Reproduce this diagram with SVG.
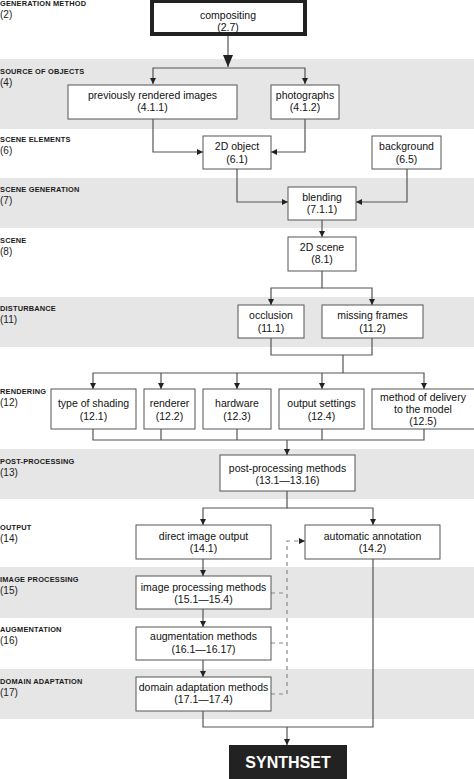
<svg xmlns="http://www.w3.org/2000/svg" width="474" height="779" viewBox="0 0 474 779">
<style>
.band{fill:#e6e6e6}
.lab{font-family:"Liberation Sans",Arial,sans-serif;font-size:7.4px;font-weight:bold;fill:#1a1a1a;letter-spacing:0.2px}
.num{font-family:"Liberation Sans",Arial,sans-serif;font-size:10px;fill:#222}
.box{fill:#fff;stroke:#555;stroke-width:1}
.t{font-family:"Liberation Sans",Arial,sans-serif;font-size:10.5px;fill:#111;text-anchor:middle}
.c{fill:none;stroke:#555;stroke-width:1.2}
.d{fill:none;stroke:#888;stroke-width:1.2;stroke-dasharray:4,4}
</style>
<defs>
<marker id="ah" markerUnits="userSpaceOnUse" markerWidth="6" markerHeight="7" refX="6" refY="3" orient="auto">
<path d="M0,0 L6,3 L0,6 z" fill="#222"/>
</marker>
<marker id="ahb" markerUnits="userSpaceOnUse" markerWidth="12" markerHeight="10" refX="12" refY="5" orient="auto">
<path d="M0,0 L12,5 L0,10 z" fill="#222"/>
</marker>
</defs>
<rect width="474" height="779" fill="#fff"/>
<g id="bands">
<rect class="band" x="0" y="59" width="474" height="70"/>
<rect class="band" x="0" y="178" width="474" height="50"/>
<rect class="band" x="0" y="297" width="474" height="50"/>
<rect class="band" x="0" y="449" width="474" height="50"/>
<rect class="band" x="0" y="567" width="474" height="51"/>
<rect class="band" x="0" y="669" width="474" height="50"/>
</g>
<g id="labels">
<text class="lab" x="0" y="6">GENERATION METHOD</text><text class="num" x="0" y="18">(2)</text>
<text class="lab" x="0" y="74">SOURCE OF OBJECTS</text><text class="num" x="0" y="86">(4)</text>
<text class="lab" x="0" y="142">SCENE ELEMENTS</text><text class="num" x="0" y="154">(6)</text>
<text class="lab" x="0" y="192">SCENE GENERATION</text><text class="num" x="0" y="204">(7)</text>
<text class="lab" x="0" y="243">SCENE</text><text class="num" x="0" y="255">(8)</text>
<text class="lab" x="0" y="311">DISTURBANCE</text><text class="num" x="0" y="323">(11)</text>
<text class="lab" x="0" y="394">RENDERING</text><text class="num" x="0" y="406">(12)</text>
<text class="lab" x="0" y="464">POST-PROCESSING</text><text class="num" x="0" y="476">(13)</text>
<text class="lab" x="0" y="530">OUTPUT</text><text class="num" x="0" y="542">(14)</text>
<text class="lab" x="0" y="582">IMAGE PROCESSING</text><text class="num" x="0" y="594">(15)</text>
<text class="lab" x="0" y="632">AUGMENTATION</text><text class="num" x="0" y="644">(16)</text>
<text class="lab" x="0" y="684">DOMAIN ADAPTATION</text><text class="num" x="0" y="696">(17)</text>
</g>
<g id="connectors">
<path class="c" d="M228,36 V67" stroke-width="2.6" stroke="#222" marker-end="url(#ahb)"/>
<path class="c" d="M228,68 H153 V84" marker-end="url(#ah)"/>
<path class="c" d="M228,68 H305 V84" marker-end="url(#ah)"/>
<path class="c" d="M153,119 V152 H203" marker-end="url(#ah)"/>
<path class="c" d="M305,119 V152 H271" marker-end="url(#ah)"/>
<path class="c" d="M237,169 V202 H288" marker-end="url(#ah)"/>
<path class="c" d="M407,169 V202 H356" marker-end="url(#ah)"/>
<path class="c" d="M322,220 V237" marker-end="url(#ah)"/>
<path class="c" d="M322,271 V288 H271 V305" marker-end="url(#ah)"/>
<path class="c" d="M322,288 H372 V305" marker-end="url(#ah)"/>
<path class="c" d="M271,338 V355 H372 V338"/>
<path class="c" d="M343,355 V373"/>
<path class="c" d="M343,373 H93 V389" marker-end="url(#ah)"/>
<path class="c" d="M343,373 H424 V389" marker-end="url(#ah)"/>
<path class="c" d="M161,373 V389" marker-end="url(#ah)"/>
<path class="c" d="M237,373 V389" marker-end="url(#ah)"/>
<path class="c" d="M322,373 V389" marker-end="url(#ah)"/>
<path class="c" d="M93,429 V440 H424 V429"/>
<path class="c" d="M161,429 V440 M237,429 V440 M322,429 V440"/>
<path class="c" d="M287,440 V455" marker-end="url(#ah)"/>
<path class="c" d="M287,491 V508 H203 V525" marker-end="url(#ah)"/>
<path class="c" d="M287,508 H373 V525" marker-end="url(#ah)"/>
<path class="c" d="M203,559 V576" marker-end="url(#ah)"/>
<path class="c" d="M203,609 V627" marker-end="url(#ah)"/>
<path class="c" d="M203,660 V677" marker-end="url(#ah)"/>
<path class="c" d="M203,711 V727 H373 V559"/>
<path class="c" d="M287,727 V745" marker-end="url(#ah)"/>
<path class="d" d="M271,593 H287 M271,643 H287 M271,694 H287"/>
<path class="d" d="M287,694 V541 H305" marker-end="url(#ah)"/>
</g>
<g id="compositing">
<rect x="152" y="1" width="153" height="33" fill="#fff" stroke="#222" stroke-width="4"/>
<text class="t" x="228" y="19">compositing</text><text class="t" x="228" y="31">(2.7)</text>
</g>
<g id="prev-rendered">
<rect class="box" x="68" y="85" width="169" height="34"/>
<text class="t" x="152.5" y="99">previously rendered images</text><text class="t" x="152.5" y="111">(4.1.1)</text>
</g>
<g id="photographs">
<rect class="box" x="271" y="85" width="68" height="34"/>
<text class="t" x="305" y="99">photographs</text><text class="t" x="305" y="111">(4.1.2)</text>
</g>
<g id="object2d">
<rect class="box" x="203" y="136" width="68" height="33"/>
<text class="t" x="237" y="150">2D object</text><text class="t" x="237" y="163">(6.1)</text>
</g>
<g id="background">
<rect class="box" x="372" y="136" width="69" height="33"/>
<text class="t" x="406.5" y="150">background</text><text class="t" x="406.5" y="163">(6.5)</text>
</g>
<g id="blending">
<rect class="box" x="288" y="187" width="68" height="33"/>
<text class="t" x="322" y="201">blending</text><text class="t" x="322" y="213">(7.1.1)</text>
</g>
<g id="scene2d">
<rect class="box" x="288" y="237" width="68" height="34"/>
<text class="t" x="322" y="251">2D scene</text><text class="t" x="322" y="263">(8.1)</text>
</g>
<g id="occlusion">
<rect class="box" x="238" y="305" width="66" height="33"/>
<text class="t" x="271" y="319">occlusion</text><text class="t" x="271" y="332">(11.1)</text>
</g>
<g id="missing-frames">
<rect class="box" x="322" y="305" width="101" height="33"/>
<text class="t" x="372.5" y="319">missing frames</text><text class="t" x="372.5" y="332">(11.2)</text>
</g>
<g id="shading">
<rect class="box" x="51" y="389" width="85" height="40"/>
<text class="t" x="93.5" y="407">type of shading</text><text class="t" x="93.5" y="420">(12.1)</text>
</g>
<g id="renderer">
<rect class="box" x="144" y="389" width="51" height="40"/>
<text class="t" x="169.5" y="407">renderer</text><text class="t" x="169.5" y="420">(12.2)</text>
</g>
<g id="hardware">
<rect class="box" x="203" y="389" width="68" height="40"/>
<text class="t" x="237" y="407">hardware</text><text class="t" x="237" y="420">(12.3)</text>
</g>
<g id="output-settings">
<rect class="box" x="279" y="389" width="85" height="40"/>
<text class="t" x="321.5" y="407">output settings</text><text class="t" x="321.5" y="420">(12.4)</text>
</g>
<g id="delivery">
<rect class="box" x="372" y="389" width="104" height="40"/>
<text class="t" x="423" y="401">method of delivery</text><text class="t" x="423" y="413">to the model</text><text class="t" x="423" y="425">(12.5)</text>
</g>
<g id="post-processing">
<rect class="box" x="220" y="455" width="135" height="36"/>
<text class="t" x="287.5" y="472">post-processing methods</text><text class="t" x="287.5" y="484">(13.1—13.16)</text>
</g>
<g id="direct-output">
<rect class="box" x="136" y="525" width="135" height="34"/>
<text class="t" x="203.5" y="540">direct image output</text><text class="t" x="203.5" y="552">(14.1)</text>
</g>
<g id="annotation">
<rect class="box" x="305" y="525" width="135" height="34"/>
<text class="t" x="372.5" y="540">automatic annotation</text><text class="t" x="372.5" y="552">(14.2)</text>
</g>
<g id="image-processing">
<rect class="box" x="136" y="576" width="135" height="33"/>
<text class="t" x="203.5" y="591">image processing methods</text><text class="t" x="203.5" y="603">(15.1—15.4)</text>
</g>
<g id="augmentation">
<rect class="box" x="136" y="627" width="135" height="33"/>
<text class="t" x="203.5" y="640">augmentation methods</text><text class="t" x="203.5" y="653">(16.1—16.17)</text>
</g>
<g id="domain-adaptation">
<rect class="box" x="136" y="677" width="135" height="34"/>
<text class="t" x="203.5" y="691">domain adaptation methods</text><text class="t" x="203.5" y="703">(17.1—17.4)</text>
</g>
<g id="synthset">
<rect x="229" y="745" width="118" height="40" fill="#222"/>
<text x="288" y="768" font-family="Liberation Sans,Arial,sans-serif" font-size="16" font-weight="bold" fill="#fff" text-anchor="middle">SYNTHSET</text>
</g>
</svg>
